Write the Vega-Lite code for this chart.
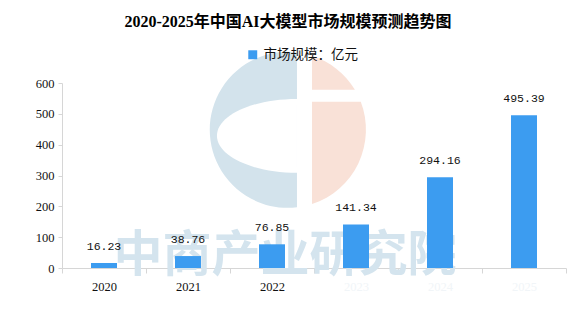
{
  "$schema": "https://vega.github.io/schema/vega-lite/v6.json",
  "width": 504,
  "height": 185,
  "autosize": {"type": "none"},
  "padding": {"left": 62, "top": 83, "right": 10, "bottom": 59},
  "background": "white",
  "title": {
    "text": "2020-2025年中国AI大模型市场规模预测趋势图",
    "font": "Liberation Serif, Noto Sans CJK SC",
    "fontSize": 16,
    "fontWeight": "bold",
    "color": "#000000",
    "anchor": "middle",
    "dx": -26,
    "offset": 18
  },
  "data": {
    "values": [
      {"year": "2020", "value": 16.23},
      {"year": "2021", "value": 38.76},
      {"year": "2022", "value": 76.85},
      {"year": "2023", "value": 141.34},
      {"year": "2024", "value": 294.16},
      {"year": "2025", "value": 495.39}
    ]
  },
  "layer": [
    {
      "data": {"values": [{}]},
      "mark": {
        "type": "point",
        "shape": "M0.115,-0.993 A1,1 0 1,0 0.115,0.993 Z",
        "size": 24336,
        "filled": true,
        "fill": "#d3e3ec",
        "opacity": 1,
        "strokeWidth": 0,
        "xOffset": 16
      },
      "encoding": {
        "x": {
          "datum": "2022",
          "type": "nominal",
          "scale": {"domain": ["2020", "2021", "2022", "2023", "2024", "2025"], "paddingInner": 0, "paddingOuter": 0},
          "axis": {
            "title": null,
            "labelAngle": 0,
            "labelFont": "Liberation Serif",
            "labelFontSize": 12.5,
            "labelColor": {"condition": {"test": "datum.value > '2022'", "value": "#f1f5f8"}, "value": "#111111"},
            "labelPadding": 7,
            "domainColor": "#d6d6d6",
            "tickColor": "#d6d6d6",
            "tickBand": "extent",
            "tickSize": 5
          }
        },
        "y": {
          "datum": 448,
          "type": "quantitative",
          "scale": {"domain": [0, 600], "nice": false},
          "axis": {
            "title": null,
            "values": [0, 100, 200, 300, 400, 500, 600],
            "tickCount": 7,
            "grid": false,
            "labelFont": "Liberation Serif",
            "labelFontSize": 12.5,
            "labelColor": "#111111",
            "labelPadding": 4,
            "domainColor": "#d6d6d6",
            "tickColor": "#d6d6d6",
            "tickSize": 4
          }
        }
      }
    },
    {
      "data": {"values": [{}]},
      "mark": {
        "type": "point",
        "shape": "M0.115,-0.397 A1.026,0.474 0 0,0 0.115,0.551 Z",
        "size": 24336,
        "filled": true,
        "fill": "#ffffff",
        "opacity": 1,
        "strokeWidth": 0,
        "xOffset": 16
      },
      "encoding": {
        "x": {"datum": "2022", "type": "nominal"},
        "y": {"datum": 448, "type": "quantitative"}
      }
    },
    {
      "data": {"values": [{}]},
      "mark": {
        "type": "point",
        "shape": "M0.308,-0.951 A1,1 0 0,1 0.858,-0.513 L0.308,-0.513 Z M0.308,-0.359 L0.933,-0.359 A1,1 0 0,1 0.308,0.951 Z",
        "size": 24336,
        "filled": true,
        "fill": "#f9e1d7",
        "opacity": 1,
        "strokeWidth": 0,
        "xOffset": 16
      },
      "encoding": {
        "x": {"datum": "2022", "type": "nominal"},
        "y": {"datum": 448, "type": "quantitative"}
      }
    },
    {
      "data": {"values": [{"label": "中商产业研究院"}]},
      "mark": {
        "type": "text",
        "font": "Noto Sans CJK SC",
        "fontWeight": "bold",
        "fontSize": 49,
        "fill": "#d4e4ee",
        "baseline": "middle",
        "align": "center",
        "dx": 13
      },
      "encoding": {
        "x": {"datum": "2022", "type": "nominal"},
        "y": {"datum": 40, "type": "quantitative"},
        "text": {"field": "label", "type": "nominal"}
      }
    },
    {
      "mark": {"type": "bar", "size": 26},
      "encoding": {
        "x": {"field": "year", "type": "nominal"},
        "y": {
          "field": "value",
          "type": "quantitative",
          "axis": {
            "title": null,
            "values": [0, 100, 200, 300, 400, 500, 600],
            "tickCount": 7,
            "grid": false,
            "labelFont": "Liberation Serif",
            "labelFontSize": 12.5,
            "labelColor": "#111111",
            "labelPadding": 4,
            "domainColor": "#d6d6d6",
            "tickColor": "#d6d6d6",
            "tickSize": 4
          }
        },
        "color": {
          "datum": "市场规模：亿元",
          "scale": {"range": ["#3c9cf0"]},
          "legend": {
            "title": null,
            "orient": "none",
            "legendX": 184,
            "legendY": -35,
            "symbolType": "square",
            "symbolSize": 80,
            "symbolStrokeWidth": 0,
            "labelFont": "Noto Sans CJK SC",
            "labelFontSize": 13.5,
            "labelColor": "#111111",
            "labelOffset": 4
          }
        }
      }
    },
    {
      "mark": {
        "type": "text",
        "baseline": "bottom",
        "dy": -11,
        "font": "Liberation Mono",
        "fontSize": 11.5,
        "color": "#111111"
      },
      "encoding": {
        "x": {"field": "year", "type": "nominal"},
        "y": {"field": "value", "type": "quantitative"},
        "text": {"field": "value", "type": "quantitative", "format": ".2f"}
      }
    }
  ],
  "config": {"view": {"stroke": null}}
}
